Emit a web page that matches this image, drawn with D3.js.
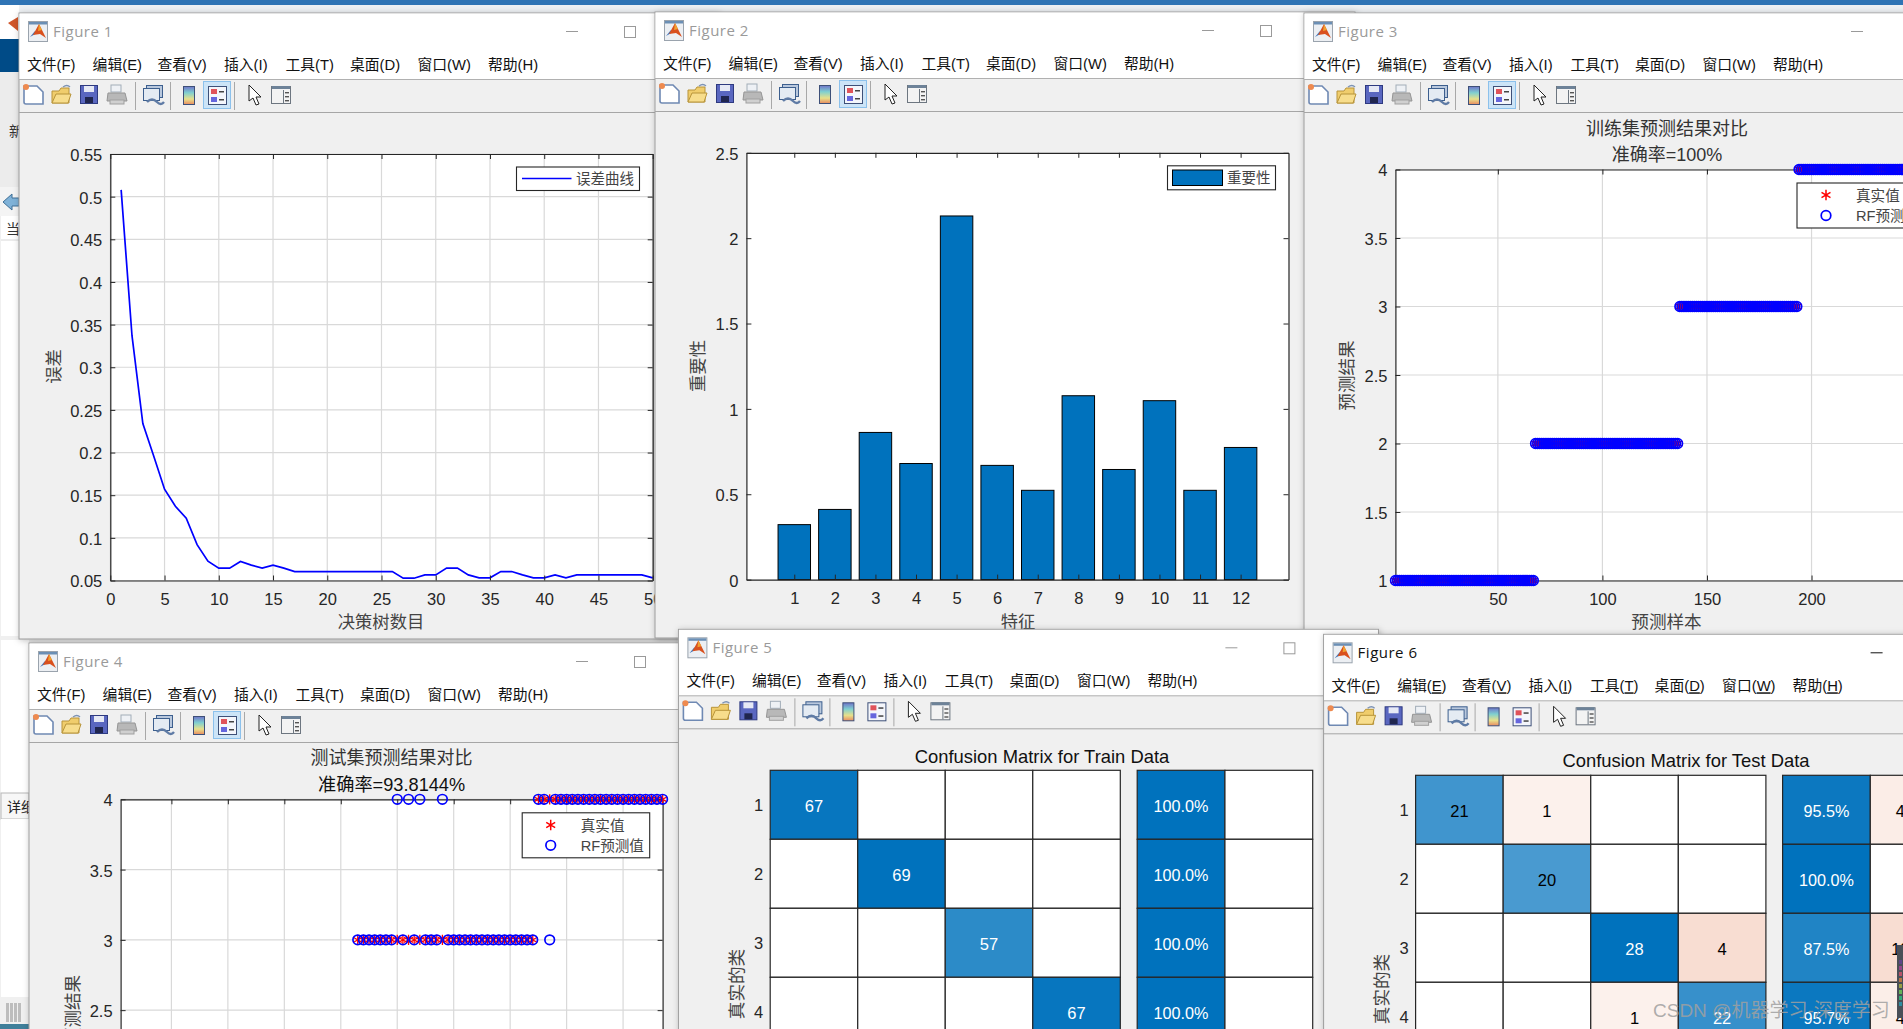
<!DOCTYPE html>
<html><head><meta charset="utf-8">
<script src="https://cdn.jsdelivr.net/npm/d3@7/dist/d3.min.js"></script>
<style>
html,body{margin:0;padding:0;background:#f0f0f0;overflow:hidden}
svg{display:block}
text{font-family:"Liberation Sans","Noto Sans CJK SC",sans-serif}
</style></head><body>
<script>
// ---------- data ----------
const errorValues=[0.508,0.337,0.234,0.196,0.157,0.137,0.123,0.092,0.0727,0.0645,0.0645,0.0723,0.068,0.0645,0.068,0.0645,
0.0605,0.0605,0.0605,0.0605,0.0605,0.0605,0.0605,0.0605,0.0605,0.0605,0.0527,0.0527,0.0566,0.0566,0.0645,0.0645,0.0566,
0.0531,0.0531,0.0605,0.0605,0.0566,0.0531,0.0531,0.0566,0.0531,0.0566,0.0566,0.0566,0.0566,0.0566,0.0566,0.0566,0.0531];
const errorTicksX=[0,5,10,15,20,25,30,35,40,45,50];
const errorTicksY=[0.05,0.1,0.15,0.2,0.25,0.3,0.35,0.4,0.45,0.5,0.55];
const featureIds=[1,2,3,4,5,6,7,8,9,10,11,12];
const importance=[0.322,0.411,0.862,0.68,2.13,0.669,0.523,1.077,0.645,1.048,0.523,0.774];
const importanceTicks=[0,0.5,1,1.5,2,2.5];
const classIds=[1,2,3,4];
const classTicks=[1,1.5,2,2.5,3,3.5,4];
const trainCounts=[67,69,57,67];
const testCounts=[22,20,32,23];
const testMisses=new Map([[50,4],[52,4],[54,4],[58,4],[77,3]]);
const trainTicksX=[50,100,150,200,250];
const testTicksX=[10,20,30,40,50,60,70,80,90];
const trainMatrix=[[67,0,0,0],[0,69,0,0],[0,0,57,0],[0,0,0,67]];
const testMatrix=[[21,1,0,0],[0,20,0,0],[0,0,28,4],[0,0,1,22]];
const menuItems=[["文件","F"],["编辑","E"],["查看","V"],["插入","I"],["工具","T"],["桌面","D"],["窗口","W"],["帮助","H"]];

// ---------- page ----------
const svg=d3.select("body").append("svg").attr("width",1903).attr("height",1029);
const defs=svg.append("defs");
const cg=defs.append("linearGradient").attr("id","cbar").attr("x1",0).attr("y1",0).attr("x2",0).attr("y2",1);
[["0%","#6f74c9"],["35%","#7fd0d0"],["70%","#e8e08a"],["100%","#e88a60"]].forEach(s=>cg.append("stop").attr("offset",s[0]).attr("stop-color",s[1]));
const sh=defs.append("filter").attr("id","shadow").attr("x","-5%").attr("y","-5%").attr("width","110%").attr("height","110%");
sh.append("feDropShadow").attr("dx",1).attr("dy",1).attr("stdDeviation",3).attr("flood-color","#000").attr("flood-opacity",0.25);

// backdrop (main MATLAB window behind the figures)
const bg=svg.append("g");
const R=(g,x,y,w,h,f,s)=>g.append("rect").attr("x",x).attr("y",y).attr("width",w).attr("height",h).attr("fill",f).attr("stroke",s||"none");
R(bg,0,0,1903,1029,"#f0f0f0");
R(bg,0,0,1903,5,"#2f74b5");
R(bg,0,5,1903,8,"#eef1f4");
R(bg,0,5,19,34,"#ffffff");
R(bg,0,39,19,33,"#004b87");
R(bg,0,72,19,115,"#ececec");
R(bg,0,187,19,29,"#f4f4f4");
bg.append("path").attr("d","M3,202 L12,194 V198 H19 V206 H12 V210 Z").attr("fill","#7fb2d8").attr("stroke","#3f6f96");
R(bg,1,216,18,420,"#ffffff");
bg.append("line").attr("x1",1).attr("x2",19).attr("y1",240).attr("y2",240).attr("stroke","#d8d8d8");
bg.append("text").attr("x",6).attr("y",234).attr("font-size",14).attr("fill","#333").text("当");
bg.append("text").attr("x",9).attr("y",136).attr("font-size",14).attr("fill","#333").text("新");
bg.append("path").attr("d","M8,23 L18,17 V31 Z").attr("fill","#d0562a");
R(bg,1,640,28,153,"#ffffff");
R(bg,1,793,28,26,"#f7f7f7","#b8b8b8");
bg.append("text").attr("x",7).attr("y",812).attr("font-size",14).attr("fill","#222").text("详细");
R(bg,1,819,28,178,"#ffffff");
[6,10,14,18].forEach(x=>R(bg,x,1003,3,19,"#bdbdbd"));
R(bg,0,1024,29,5,"#3f7f9a");

// ---------- one figure window ----------
function makeWindow(id,L,T,H,name,active,hiLegend){
  const W=700;
  const outer=svg.append("g");
  outer.append("rect").attr("x",L).attr("y",T).attr("width",W).attr("height",H).attr("fill","#f0f0f0").attr("stroke","#9c9c9c").attr("filter","url(#shadow)");
  defs.append("clipPath").attr("id","clip"+id).append("rect").attr("x",L).attr("y",T).attr("width",W).attr("height",H);
  const g=outer.append("g").attr("clip-path","url(#clip"+id+")");
  const c=g.append("g").attr("transform",`translate(${L},${T})`);
  R(c,0.5,0.5,W-1,66,"#ffffff");
  c.append("line").attr("x1",0).attr("x2",W).attr("y1",66.5).attr("y2",66.5).attr("stroke","#b0b0b0");
  c.append("line").attr("x1",0).attr("x2",W).attr("y1",99.5).attr("y2",99.5).attr("stroke","#a6a6a6");
  // MATLAB logo
  R(c,9.5,8.5,19,20,"#eceff3","#9aa3ad");
  R(c,10,9,18,2.5,"#6b8fb5");
  c.append("path").attr("d","M11,24 L16,18 L18,20 Z").attr("fill","#3f74b8");
  c.append("path").attr("d","M14,22 L20,11 L27,25 L21,21 Z").attr("fill","#d9501e");
  c.append("path").attr("d","M20,11 L23,17 L19,18 Z").attr("fill","#f0a030");
  c.append("text").attr("x",34).attr("y",24).attr("font-size",15).attr("letter-spacing",0.5)
    .style("font-family","'Open Sans','Noto Sans',sans-serif").attr("fill",active?"#111":"#9a9a9a").text(name);
  // window buttons
  c.append("line").attr("x1",547).attr("x2",559).attr("y1",18.5).attr("y2",18.5).attr("stroke",active?"#111":"#9a9a9a");
  R(c,605.5,13.5,11,11,"#fff",active?"#111":"#9a9a9a");
  // menu
  const menuX=[8,73.6,138.4,205,266.4,331,398.5,469];
  menuItems.forEach((m,i)=>{
    const t=c.append("text").attr("x",menuX[i]).attr("y",57).attr("font-size",14.8).attr("fill","#111");
    t.append("tspan").text(m[0]+"(");
    t.append("tspan").style("text-decoration",active?"underline":"none").text(m[1]);
    t.append("tspan").text(")");
  });
  // toolbar
  [116,151,215].forEach(x=>c.append("line").attr("x1",x+.5).attr("x2",x+.5).attr("y1",69).attr("y2",97).attr("stroke","#a8a8a8"));
  if(hiLegend) R(c,184.5,68.5,27,27,"#cce4f7","#8cc1ec");
  // new doc
  c.append("path").attr("d","M5,73 H18 L24,79 V91 H7 Q5,91 5,89 Z").attr("fill","#fff").attr("stroke","#6f89b3").attr("stroke-width",1.6);
  c.append("circle").attr("cx",7).attr("cy",74).attr("r",3).attr("fill","#ee8a4f");
  // folder
  c.append("path").attr("d","M33,78 H40 L42,75 H50 V90 H33 Z").attr("fill","#f0cd6c").attr("stroke","#b8943a");
  c.append("path").attr("d","M33,90 L37,81 H52 L49,90 Z").attr("fill","#f7dd8c").attr("stroke","#b8943a");
  c.append("path").attr("d","M44,74 Q48,71 51,74").attr("fill","none").attr("stroke","#7d93b5").attr("stroke-width",1.4);
  // floppy
  R(c,61.5,72.5,17,18,"#5a67c0","#2e3a80");
  R(c,65,73,10,6,"#e6e9f5");
  R(c,66,84,8,6,"#20264f");
  // printer
  R(c,92,72,10,7,"#eef1f5","#a2adb8");
  c.append("path").attr("d","M89,80 H106 L108,88 H88 Z").attr("fill","#b8b8b8").attr("stroke","#959595");
  R(c,91,87,14,4,"#d0d0d0","#a0a0a0");
  // link
  R(c,127.5,72.5,16,12,"#b9c8dd","#3d5f8e");
  R(c,124.5,75.5,16,12,"#e4ebf3","#3d5f8e");
  c.append("path").attr("d","M128,89 Q133,84 138,89 Q142,93 145,89").attr("fill","none").attr("stroke","#5f7ba5").attr("stroke-width",2.4);
  // colorbar
  R(c,164.5,73.5,11,18,"url(#cbar)","#3e5078");
  // legend
  R(c,189.5,73.5,18,18,"#f4f6fb","#3e5078");
  R(c,192,76,6,5,"#e0535a");R(c,192,84,6,5,"#6666dd");
  R(c,200,78,5,1.5,"#444");R(c,200,86,5,1.5,"#444");
  // arrow
  c.append("path").attr("d","M230,72 V88 L234,85 L237,92 L240,91 L237,84 L242,84 Z").attr("fill","#fff").attr("stroke","#222");
  // panel
  R(c,252.5,73.5,19,17,"#f3f3f3","#6d7680");
  R(c,253,73,18,3,"#6d8298");
  R(c,264,77,1,13,"#6d7680");
  [79,83,87].forEach(y=>R(c,266,y,4,1.4,"#555"));
  return g;
}

// ---------- helpers ----------
const INK="#262626";
function styleAxis(sel){
  sel.selectAll(".domain").attr("stroke",INK).attr("stroke-width",1.2);
  sel.selectAll(".tick line").attr("stroke",INK).attr("stroke-width",1);
  sel.selectAll("text").attr("fill",INK).attr("font-size",16.5).style("font-family","'Liberation Sans',sans-serif");
}
function plotFrame(g,x,y,xT,yT,grid){
  const [x0,x1]=x.range(),[y1,y0]=y.range();
  R(g,x0,y0,x1-x0,y1-y0,"#fff");
  if(grid){
    g.append("g").selectAll("line").data(xT).join("line").attr("x1",d=>x(d)).attr("x2",d=>x(d)).attr("y1",y0).attr("y2",y1).attr("stroke","#d9d9d9").attr("stroke-width",1.2);
    g.append("g").selectAll("line").data(yT).join("line").attr("y1",d=>y(d)).attr("y2",d=>y(d)).attr("x1",x0).attr("x2",x1).attr("stroke","#d9d9d9").attr("stroke-width",1.2);
  }
  return function(){
    const a=(gen,tx,ty)=>g.append("g").attr("transform",`translate(${tx},${ty})`).call(gen).call(styleAxis);
    a(d3.axisBottom(x).tickValues(xT).tickSize(-5).tickSizeOuter(0).tickPadding(13).tickFormat(d3.format("~g")),0,y1);
    a(d3.axisLeft(y).tickValues(yT).tickSize(-5).tickSizeOuter(0).tickPadding(8).tickFormat(d3.format("~g")),x0,0).selectAll("text").attr("dy","0.39em");
    a(d3.axisTop(x).tickValues(xT).tickSize(-5).tickSizeOuter(0).tickFormat(""),0,y0);
    a(d3.axisRight(y).tickValues(yT).tickSize(-5).tickSizeOuter(0).tickFormat(""),x1,0);
  };
}
function label(g,txt,x,y,size,rot,fill){
  const t=g.append("text").attr("text-anchor","middle").attr("dominant-baseline","central")
    .attr("font-size",size).attr("fill",fill||"#444").text(txt);
  t.attr("transform",`translate(${x},${y})`+(rot?" rotate(-90)":""));
  return t;
}
function legendBox(g,x,y,w,h){R(g,x+.5,y+.5,w,h,"#fff",INK).attr("stroke-width",1.1);}
const starPath=d3.symbol().type(d3.symbolAsterisk).size(75)();
function stars(g,data,x,y){
  g.append("g").selectAll("path").data(data).join("path").attr("d",starPath)
   .attr("transform",d=>`translate(${x(d.i)},${y(d.v)})`).attr("fill","none").attr("stroke","#ff0000").attr("stroke-width",1.3);
}
function rings(g,data,x,y){
  g.append("g").selectAll("circle").data(data).join("circle").attr("cx",d=>x(d.i)).attr("cy",d=>y(d.v)).attr("r",4.8)
   .attr("fill","none").attr("stroke","#0000ff").attr("stroke-width",1.7);
}
function legendMarks(g,cx,y1,y2){
  g.append("path").attr("d",starPath).attr("transform",`translate(${cx},${y1})`).attr("fill","none").attr("stroke","#ff0000").attr("stroke-width",1.5);
  g.append("circle").attr("cx",cx).attr("cy",y2).attr("r",4.8).attr("fill","none").attr("stroke","#0000ff").attr("stroke-width",1.7);
}
function expand(counts){
  const out=[];let i=1;
  counts.forEach((n,c)=>{for(let k=0;k<n;k++) out.push({i:i++,v:classIds[c]});});
  return out;
}

// ---------- Figure 1 ----------
{
  const g=makeWindow(1,19,13,626,"Figure 1",false,true);
  const x=d3.scaleLinear().domain([0,50]).range([110.3,652.7]);
  const y=d3.scaleLinear().domain([0.05,0.55]).range([580.5,154]);
  const finish=plotFrame(g,x,y,errorTicksX,errorTicksY,true);
  g.append("path").datum(errorValues).attr("fill","none").attr("stroke","#0000ff").attr("stroke-width",1.7)
    .attr("d",d3.line().x((d,i)=>x(i+1)).y(d=>y(d)));
  finish();
  label(g,"决策树数目",381,622,17.3);
  label(g,"误差",53.5,366.5,17.3,true);
  legendBox(g,516,166.5,123,23.5);
  g.append("line").attr("x1",522).attr("x2",571.5).attr("y1",178.5).attr("y2",178.5).attr("stroke","#0000ff").attr("stroke-width",1.7);
  g.append("text").attr("x",576).attr("y",184).attr("font-size",14.5).attr("fill","#444").text("误差曲线");
}
// ---------- Figure 2 ----------
{
  const g=makeWindow(2,655,12,626,"Figure 2",false,true);
  const x=d3.scaleLinear().domain([-0.18,13.18]).range([746.4,1288.5]);
  const y=d3.scaleLinear().domain([0,2.5]).range([579.6,152.8]);
  const finish=plotFrame(g,x,y,featureIds,importanceTicks,false);
  g.append("g").selectAll("rect").data(importance).join("rect")
    .attr("x",(d,i)=>x(featureIds[i]-0.4)).attr("width",x(0.8)-x(0))
    .attr("y",d=>y(d)).attr("height",d=>y(0)-y(d))
    .attr("fill","#0072bd").attr("stroke","#000").attr("stroke-width",1);
  finish();
  label(g,"特征",1018,621.5,17.3);
  label(g,"重要性",698.4,366,17.3,true);
  legendBox(g,1167,165.3,108,24);
  R(g,1172.5,170,50,15.5,"#0072bd","#000");
  g.append("text").attr("x",1227).attr("y",182.5).attr("font-size",14.5).attr("fill","#444").text("重要性");
}
// ---------- Figure 3 ----------
{
  const g=makeWindow(3,1304,13,626,"Figure 3",false,true);
  const x=d3.scaleLinear().domain([1,260]).range([1395.4,1937]);
  const y=d3.scaleLinear().domain([1,4]).range([580.5,169.5]);
  const finish=plotFrame(g,x,y,trainTicksX,classTicks,true);
  finish();
  const pts=expand(trainCounts);
  stars(g,pts,x,y);
  rings(g,pts,x,y);
  label(g,"训练集预测结果对比",1667,128.5,18,false,"#333");
  label(g,"准确率=100%",1667,154.5,18,false,"#333");
  label(g,"预测样本",1666.5,622,17.6);
  label(g,"预测结果",1347.3,375.5,17.6,true);
  legendBox(g,1796.5,182.5,128,45);
  legendMarks(g,1826,195,215.5);
  g.append("text").attr("x",1856).attr("y",200.5).attr("font-size",14.6).attr("fill","#444").text("真实值");
  g.append("text").attr("x",1856).attr("y",220.5).attr("font-size",14.6).attr("fill","#444").text("RF预测值");
}
// ---------- Figure 4 ----------
{
  const g=makeWindow(4,29,643,500,"Figure 4",false,true);
  const x=d3.scaleLinear().domain([1,97]).range([120.6,662.6]);
  const y=d3.scaleLinear().domain([1,4]).range([1221,799.3]);
  const finish=plotFrame(g,x,y,testTicksX,classTicks,true);
  finish();
  const truth=expand(testCounts);
  const pred=truth.map(d=>({i:d.i,v:testMisses.has(d.i)?testMisses.get(d.i):d.v}));
  stars(g,truth,x,y);
  rings(g,pred,x,y);
  label(g,"测试集预测结果对比",391.6,758.3,18,false,"#333");
  label(g,"准确率=93.8144%",391.6,785,18.2,false,"#111");
  label(g,"预测结果",73,1010,17.6,true);
  legendBox(g,521.7,812.3,127.5,45);
  legendMarks(g,550.7,825,845.3);
  g.append("text").attr("x",580.7).attr("y",830.5).attr("font-size",14.6).attr("fill","#444").text("真实值");
  g.append("text").attr("x",580.7).attr("y",850.5).attr("font-size",14.6).attr("fill","#444").text("RF预测值");
}
// ---------- confusion charts ----------
const blueScale=d3.scaleLinear().range(["#ffffff","#0072bd"]);
function confusion(g,matrix,xM,xR,yTop,yBottom,title,titleX,titleY,yLabX,yLabY){
  const maxV=d3.max(matrix.flat());
  const missCol=d3.scalePow().exponent(0.62).domain([0,maxV]).range(["#ffffff","#e68f69"]);
  const missPct=d3.scalePow().exponent(0.62).domain([0,100]).range(["#ffffff","#e4855c"]);
  const bm=blueScale.copy().domain([0,maxV]);
  const bp=blueScale.copy().domain([0,100]);
  const x=d3.scaleBand().domain(classIds).range(xM);
  const y=d3.scaleBand().domain(classIds).range([yTop,yBottom]);
  const xr=d3.scaleBand().domain(["hit","miss"]).range(xR);
  const cells=matrix.flatMap((row,r)=>row.map((v,c)=>({r:classIds[r],c:classIds[c],v})));
  const cg=g.append("g");
  cg.selectAll("rect").data(cells).join("rect")
    .attr("x",d=>x(d.c)).attr("y",d=>y(d.r)).attr("width",x.bandwidth()).attr("height",y.bandwidth())
    .attr("fill",d=>d.v===0?"#fff":d.r===d.c?bm(d.v):missCol(d.v)).attr("stroke",INK).attr("stroke-width",1.2);
  cg.selectAll("text").data(cells.filter(d=>d.v>0)).join("text")
    .attr("x",d=>x(d.c)+x.bandwidth()/2).attr("y",d=>y(d.r)+y.bandwidth()/2+0.8)
    .attr("text-anchor","middle").attr("dominant-baseline","central").attr("font-size",16.5)
    .attr("fill",d=>d.r===d.c&&d.v/maxV>0.77?"#fff":"#000").text(d=>d.v);
  const rows=matrix.flatMap((row,r)=>{
    const s=d3.sum(row),hit=row[r]/s*100;
    return [{r:classIds[r],k:"hit",p:hit},{r:classIds[r],k:"miss",p:100-hit}];
  });
  const rg=g.append("g");
  rg.selectAll("rect").data(rows).join("rect")
    .attr("x",d=>xr(d.k)).attr("y",d=>y(d.r)).attr("width",xr.bandwidth()).attr("height",y.bandwidth())
    .attr("fill",d=>d.p===0?"#fff":d.k==="hit"?bp(d.p):missPct(d.p)).attr("stroke",INK).attr("stroke-width",1.2);
  rg.selectAll("text").data(rows.filter(d=>d.p>0)).join("text")
    .attr("x",d=>xr(d.k)+xr.bandwidth()/2).attr("y",d=>y(d.r)+y.bandwidth()/2+0.8)
    .attr("text-anchor","middle").attr("dominant-baseline","central").attr("font-size",16.2)
    .attr("fill",d=>d.k==="hit"?"#fff":"#000").text(d=>d.p.toFixed(1)+"%");
  const ax=g.append("g").attr("transform",`translate(${xM[0]},0)`).call(d3.axisLeft(y).tickSize(0).tickPadding(7)).call(styleAxis);
  ax.selectAll("text").attr("dy","0.39em");
  ax.select(".domain").remove();
  label(g,title,titleX,titleY,18.4,false,"#111");
  label(g,"真实的类",yLabX,yLabY,17.6,true);
}
{
  const g=makeWindow(5,678.4,629.3,500,"Figure 5",false,false);
  confusion(g,trainMatrix,[770.2,1120.3],[1137.2,1312.7],770.3,1046.3,"Confusion Matrix for Train Data",1042,756,736.5,984);
}
{
  const g=makeWindow(6,1323.6,634.3,500,"Figure 6",true,false);
  confusion(g,testMatrix,[1415.6,1765.9],[1782.6,1958],775.3,1051.3,"Confusion Matrix for Test Data",1686,760.7,1382,989);
}
// small dark widget at the right edge
R(svg,1897,945,6,73,"#4a4f57");
svg.append("g").selectAll("rect").data(d3.range(8)).join("rect").attr("x",1899).attr("y",d=>960+d*6).attr("width",3).attr("height",4)
  .attr("fill",d=>d3.interpolateRainbow(d/9)).attr("opacity",0.6);
// watermark
svg.append("text").attr("x",1653).attr("y",1016.5).attr("font-size",19).attr("fill","#a0a0a0").attr("fill-opacity",0.85)
  .text("CSDN @机器学习-深度学习");
</script>
</body></html>
